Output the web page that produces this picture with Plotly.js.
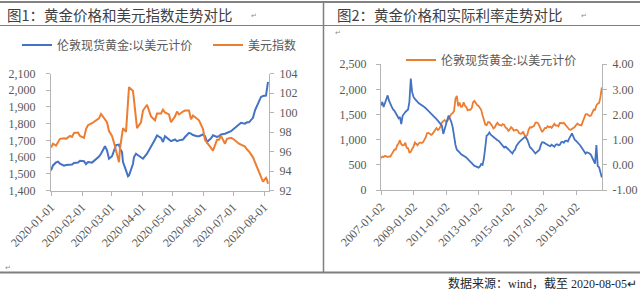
<!DOCTYPE html>
<html>
<head>
<meta charset="utf-8">
<script src="https://cdn.plot.ly/plotly-3.0.1.min.js"></script>
<style>
  html, body { margin: 0; padding: 0; background: #ffffff; }
  #chart { width: 640px; height: 295px; }
</style>
</head>
<body>
<div id="chart"></div>
<script>
// ---- Figure 1: London spot gold (USD) vs. US dollar index, 2020 ----
const dates2020 = [
  '2020-01-01','2020-01-03','2020-01-06','2020-01-08','2020-01-10','2020-01-14','2020-01-16','2020-01-20',
  '2020-01-22','2020-01-24','2020-01-28','2020-01-30','2020-02-03','2020-02-05','2020-02-07','2020-02-11',
  '2020-02-14','2020-02-18','2020-02-20','2020-02-24','2020-02-26','2020-02-28','2020-03-02','2020-03-04',
  '2020-03-06','2020-03-09','2020-03-10','2020-03-12','2020-03-13','2020-03-16','2020-03-17','2020-03-18',
  '2020-03-19','2020-03-20','2020-03-23','2020-03-24','2020-03-26','2020-03-27','2020-03-31','2020-04-02',
  '2020-04-06','2020-04-08','2020-04-10','2020-04-14','2020-04-16','2020-04-20','2020-04-22','2020-04-24',
  '2020-04-28','2020-04-30','2020-05-04','2020-05-06','2020-05-08','2020-05-12','2020-05-14','2020-05-18',
  '2020-05-20','2020-05-22','2020-05-26','2020-05-28','2020-06-01','2020-06-03','2020-06-05','2020-06-09',
  '2020-06-11','2020-06-15','2020-06-17','2020-06-19','2020-06-23','2020-06-25','2020-06-29','2020-07-01',
  '2020-07-03','2020-07-07','2020-07-09','2020-07-13','2020-07-15','2020-07-17','2020-07-21','2020-07-23',
  '2020-07-27','2020-07-29','2020-07-31','2020-08-03','2020-08-04','2020-08-05'
];
const goldSpot2020 = [
  1520,1550,1568,1572,1560,1548,1552,1557,
  1556,1565,1568,1578,1575,1558,1570,1567,
  1582,1603,1620,1665,1640,1590,1605,1640,
  1672,1675,1650,1630,1570,1520,1500,1485,
  1490,1510,1560,1600,1620,1615,1595,1590,
  1620,1640,1660,1705,1730,1715,1690,1725,
  1705,1695,1705,1695,1700,1705,1720,1745,
  1740,1732,1725,1725,1735,1725,1690,1712,
  1730,1720,1725,1735,1740,1745,1755,1765,
  1775,1790,1805,1800,1808,1808,1835,1880,
  1940,1960,1965,1968,2010,2050
];
const dollarIndex2020 = [
  96.4,96.8,96.6,97.0,97.3,97.35,97.3,97.6,
  97.5,97.9,97.95,97.6,97.4,98.3,98.7,98.9,
  99.1,99.4,99.85,99.3,99.0,98.1,97.6,96.9,
  96.0,94.9,96.3,97.5,98.4,98.0,99.5,101.2,
  102.6,102.5,102.2,101.3,99.2,98.4,99.0,100.2,
  100.8,100.2,99.6,99.2,99.9,99.9,100.3,100.0,
  99.8,99.0,99.6,100.1,99.8,100.1,100.2,100.2,
  99.3,99.7,99.4,99.2,98.3,97.2,96.9,96.3,
  96.1,97.2,97.2,97.6,96.8,97.3,97.4,97.3,
  97.1,96.8,96.7,96.5,96.2,96.0,95.4,94.9,
  94.0,93.5,92.9,93.3,93.1,92.7
];
const monthTicks2020 = ['2020-01-01','2020-02-01','2020-03-01','2020-04-01',
                        '2020-05-01','2020-06-01','2020-07-01','2020-08-01'];

// ---- Figure 2: London spot gold (USD) vs. real interest rate, monthly from Jan 2007 ----
const firstYear = 2007;
const goldMonthly = [
  631,665,655,680,668,655,666,665,713,754,806,803,
  889,922,990,909,888,890,939,839,829,745,760,816,
  858,943,924,890,928,946,934,949,996,1043,1127,1135,
  1118,1095,1113,1148,1205,1232,1193,1215,1271,1342,1370,1391,
  1356,1372,1424,1474,1510,1529,1572,1810,1870,1665,1739,1652,
  1656,1742,1673,1650,1585,1596,1594,1626,1744,1770,1721,1688,
  1671,1627,1593,1487,1414,1300,1286,1347,1349,1316,1275,1225,
  1244,1300,1336,1299,1287,1279,1311,1296,1241,1223,1176,1201,
  1251,1227,1179,1198,1199,1181,1131,1117,1125,1159,1086,1068,
  1097,1200,1246,1242,1260,1276,1337,1341,1326,1266,1236,1152,
  1192,1234,1231,1266,1246,1260,1236,1283,1314,1280,1282,1265,
  1331,1331,1325,1335,1303,1282,1238,1202,1198,1215,1221,1250,
  1291,1320,1300,1285,1284,1359,1413,1500,1510,1495,1471,1480,
  1560,1597,1591,1683,1715,1732,1846,2040
];
const realRate = [
  2.36,2.50,2.30,2.45,2.60,2.76,2.55,2.40,2.30,2.20,2.15,2.05,
  1.95,1.85,1.90,1.62,1.95,2.05,2.10,2.15,2.20,2.50,3.43,2.90,
  2.70,2.62,2.55,2.50,2.45,2.42,2.38,2.36,2.30,2.25,2.20,2.15,
  2.10,2.03,2.00,1.95,1.89,1.82,1.76,1.70,1.62,1.56,1.23,1.45,
  1.70,1.80,1.96,1.85,1.70,1.49,1.05,0.80,0.60,0.56,0.50,0.43,
  0.40,0.36,0.32,0.29,0.24,0.18,0.12,0.07,0.02,-0.04,-0.06,-0.10,
  -0.11,-0.06,0.03,0.00,0.25,0.69,1.16,1.20,1.29,1.20,1.15,1.09,
  1.05,1.02,0.98,0.95,0.89,0.85,0.75,0.69,0.72,0.68,0.62,0.56,
  0.50,0.45,0.55,0.60,0.75,0.85,0.90,0.95,1.00,1.05,1.10,1.09,
  1.00,0.85,0.70,0.65,0.60,0.52,0.45,0.50,0.55,0.60,0.80,0.90,
  0.89,0.85,0.82,0.78,0.76,0.74,0.80,0.76,0.72,0.80,0.82,0.78,
  0.80,0.90,0.92,0.88,0.95,0.96,0.93,1.05,1.18,1.25,1.12,1.00,
  0.95,0.90,0.82,0.78,0.70,0.60,0.55,0.45,0.50,0.48,0.45,0.40,
  0.30,0.20,0.05,0.79,-0.05,-0.10,-0.30,-0.50
];
const yearTicks = ['2007-01-02','2009-01-02','2011-01-02','2013-01-02',
                   '2015-01-02','2017-01-02','2019-01-02'];
const rateTickVals = [-1, 0, 1, 2, 3, 4];
const rateTickText = ['-1.00', '0.00', '1.00', '2.00', '3.00', '4.00'];

// month-start dates for the monthly series
const months = goldMonthly.map((_, i) => {
  const y = firstYear + Math.floor(i / 12);
  const m = String(i % 12 + 1).padStart(2, '0');
  return y + '-' + m + '-01';
});

// page layout helpers: pixel position -> paper fraction
const W = 640, H = 295;
const px = v => v / W;
const py = v => 1 - v / H;

const BLUE = '#4472c4', ORANGE = '#ed7d31';
const AXIS = '#b4b4b4', TEXT = '#595959';
const SERIF = 'Liberation Serif, Times New Roman, serif';
const CJK = 'Noto Sans CJK SC, sans-serif';
const MIXED = 'Liberation Serif, Noto Sans CJK SC, serif';

const tickFont = { family: SERIF, size: 12, color: TEXT };
const baseAxis = {
  showgrid: false, zeroline: false, showline: true, linecolor: AXIS, linewidth: 1,
  ticks: 'outside', ticklen: 4, tickcolor: AXIS, tickwidth: 1, tickfont: tickFont,
  fixedrange: true
};

const traces = [
  { x: dates2020, y: goldSpot2020, name: '伦敦现货黄金:以美元计价', type: 'scatter', mode: 'lines',
    line: { color: BLUE, width: 2 }, xaxis: 'x', yaxis: 'y', legend: 'legend' },
  { x: dates2020, y: dollarIndex2020, name: '美元指数', type: 'scatter', mode: 'lines',
    line: { color: ORANGE, width: 2 }, xaxis: 'x', yaxis: 'y2', legend: 'legend' },
  { x: months, y: realRate, name: '实际利率', type: 'scatter', mode: 'lines',
    line: { color: BLUE, width: 1.8 }, xaxis: 'x2', yaxis: 'y4', showlegend: false },
  { x: months, y: goldMonthly, name: '伦敦现货黄金:以美元计价', type: 'scatter', mode: 'lines',
    line: { color: ORANGE, width: 1.8 }, xaxis: 'x2', yaxis: 'y3', legend: 'legend2' }
];

const legendBase = {
  orientation: 'h', xanchor: 'left', yanchor: 'middle', bgcolor: 'rgba(0,0,0,0)',
  borderwidth: 0, font: { family: CJK, size: 12, color: TEXT }, itemclick: false
};

const borderColor = '#7f7f7f';
const shapes = [
  { type: 'line', xref: 'paper', yref: 'paper', x0: 0, x1: 1, y0: py(2), y1: py(2),
    line: { color: '#595959', width: 1.5 } },
  { type: 'line', xref: 'paper', yref: 'paper', x0: 0, x1: 1, y0: py(25.5), y1: py(25.5),
    line: { color: borderColor, width: 1 } },
  { type: 'line', xref: 'paper', yref: 'paper', x0: px(323.5), x1: px(323.5), y0: py(2), y1: py(272.5),
    line: { color: borderColor, width: 1.5 } },
  { type: 'line', xref: 'paper', yref: 'paper', x0: 0, x1: 1, y0: py(272.5), y1: py(272.5),
    line: { color: borderColor, width: 2 } }
];

const titleFont = { family: CJK, size: 14.5, color: '#404040' };
const markFont = { family: SERIF, size: 7, color: '#8c8c8c' };
const annotations = [
  { text: '图1：黄金价格和美元指数走势对比', xref: 'paper', yref: 'paper', x: px(5), y: py(14),
    xanchor: 'left', yanchor: 'middle', showarrow: false, font: titleFont },
  { text: '↵', xref: 'paper', yref: 'paper', x: px(249), y: py(16),
    xanchor: 'left', yanchor: 'middle', showarrow: false, font: markFont },
  { text: '图2：黄金价格和实际利率走势对比', xref: 'paper', yref: 'paper', x: px(335), y: py(14),
    xanchor: 'left', yanchor: 'middle', showarrow: false, font: titleFont },
  { text: '↵', xref: 'paper', yref: 'paper', x: px(579), y: py(16),
    xanchor: 'left', yanchor: 'middle', showarrow: false, font: markFont },
  { text: '↵', xref: 'paper', yref: 'paper', x: px(3), y: py(268),
    xanchor: 'left', yanchor: 'middle', showarrow: false, font: markFont },
  { text: '↵', xref: 'paper', yref: 'paper', x: px(333), y: py(33),
    xanchor: 'left', yanchor: 'middle', showarrow: false, font: markFont },
  { text: '数据来源：wind，截至 2020-08-05↵', xref: 'paper', yref: 'paper', x: px(639), y: py(283),
    xanchor: 'right', yanchor: 'middle', showarrow: false,
    font: { family: MIXED, size: 12, color: '#262626' } }
];

const layout = {
  width: W, height: H,
  margin: { l: 0, r: 0, t: 0, b: 0, pad: 0 },
  paper_bgcolor: '#ffffff', plot_bgcolor: '#ffffff',
  showlegend: true,
  legend: Object.assign({}, legendBase, { x: px(17), y: py(45), entrywidth: 146, entrywidthmode: 'pixels' }),
  legend2: Object.assign({}, legendBase, { x: px(401), y: py(60) }),
  xaxis: Object.assign({}, baseAxis, {
    domain: [px(51), px(269)], anchor: 'y', type: 'date',
    range: ['2020-01-01', '2020-08-06'],
    tickmode: 'array', tickvals: monthTicks2020, ticktext: monthTicks2020, tickangle: -45
  }),
  yaxis: Object.assign({}, baseAxis, {
    domain: [py(190.5), py(73.5)], anchor: 'x',
    range: [1400, 2100], tick0: 1400, dtick: 100, tickformat: ',d', ticklabelstandoff: 8
  }),
  yaxis2: Object.assign({}, baseAxis, {
    overlaying: 'y', side: 'right', anchor: 'x',
    range: [92, 104], tick0: 92, dtick: 2, ticklabelstandoff: 3
  }),
  xaxis2: Object.assign({}, baseAxis, {
    domain: [px(381), px(602)], anchor: 'y3', type: 'date',
    range: ['2007-01-02', '2020-08-05'],
    tickmode: 'array', tickvals: yearTicks, ticktext: yearTicks, tickangle: -45
  }),
  yaxis3: Object.assign({}, baseAxis, {
    domain: [py(190), py(64.2)], anchor: 'x2',
    range: [0, 2500], tick0: 0, dtick: 500, tickformat: ',d', ticklabelstandoff: 7
  }),
  yaxis4: Object.assign({}, baseAxis, {
    overlaying: 'y3', side: 'right', anchor: 'x2',
    range: [-1, 4], tickmode: 'array', tickvals: rateTickVals, ticktext: rateTickText,
    ticklabelstandoff: 3
  }),
  shapes: shapes,
  annotations: annotations
};

Plotly.newPlot('chart', traces, layout, { staticPlot: true, displayModeBar: false });
</script>
</body>
</html>
